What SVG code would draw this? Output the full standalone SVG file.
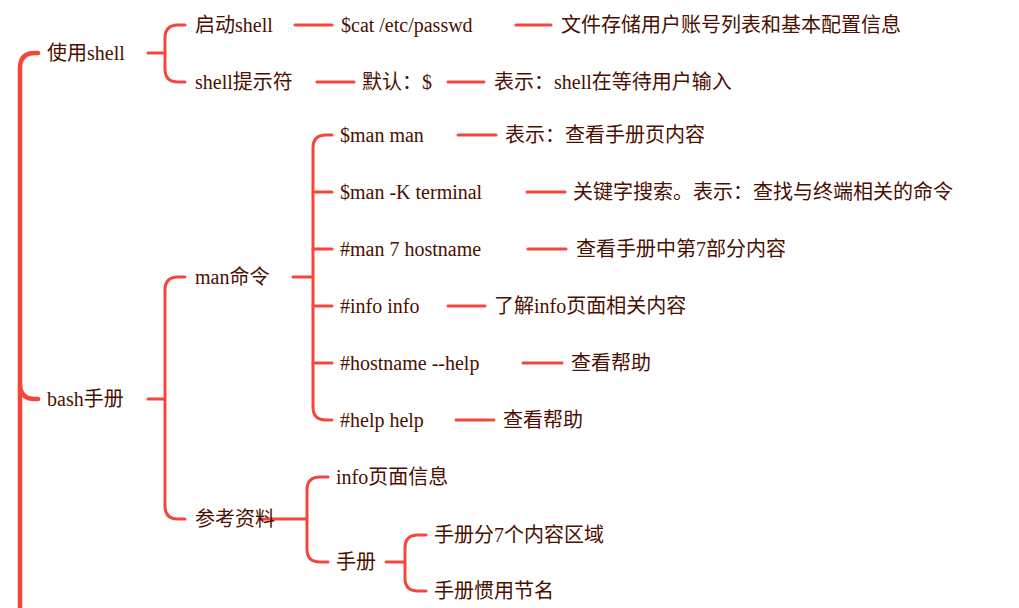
<svg xmlns="http://www.w3.org/2000/svg" width="1019" height="608" viewBox="0 0 1019 608">
<style>
text{font-family:"Liberation Serif","Noto Sans CJK SC",serif;font-size:20px;fill:#4a1000;dominant-baseline:central}
.l{fill:none;stroke:#f5463c;stroke-width:3;stroke-linecap:round}
.r{fill:none;stroke:#f5463c;stroke-width:4.5;stroke-linecap:round}
</style>
<rect width="1019" height="608" fill="#fff"/>
<g id="connectors">
<path class="r" d="M20 610 V68 Q20 53 35 53 H38"/>
<path class="r" d="M20 384 Q20 399 35 399 H38"/>
<path class="l" d="M148 53 H165 M185 25 H178 Q165 25 165 38 V69 Q165 82 178 82 H185"/>
<path class="l" d="M295 25 H332 M516 25 H551 M317 82 H354 M448 82 H484"/>
<path class="l" d="M148 399 H165 M185 277 H178 Q165 277 165 290 V506 Q165 519 178 519 H185"/>
<path class="l" d="M293 277 H313 M332 135 H326 Q313 135 313 148 V407 Q313 420 326 420 H332"/>
<path class="l" d="M313 192 H332 M313 249 H332 M313 306 H332 M313 363 H332"/>
<path class="l" d="M458 135 H496 M527 192 H565 M528 249 H566 M448 306 H485 M523 363 H562 M456 420 H494"/>
<path class="l" d="M260 519 H307 M328 477 H320 Q307 477 307 490 V549 Q307 562 320 562 H328"/>
<path class="l" d="M386 562 H405 M426 535 H418 Q405 535 405 548 V578 Q405 591 418 591 H426"/>
</g>
<g id="n1"><text x="47" y="53">使用shell</text></g>
<g id="n2"><text x="195" y="25">启动shell</text></g>
<g id="n3"><text x="341" y="25">$cat /etc/passwd</text></g>
<g id="n4"><text x="561" y="25">文件存储用户账号列表和基本配置信息</text></g>
<g id="n5"><text x="195" y="82">shell提示符</text></g>
<g id="n6"><text x="362" y="82">默认：$</text></g>
<g id="n7"><text x="494" y="82">表示：shell在等待用户输入</text></g>
<g id="n8"><text x="47" y="399">bash手册</text></g>
<g id="n9"><text x="195" y="277">man命令</text></g>
<g id="n10"><text x="340" y="135">$man man</text></g>
<g id="n11"><text x="505" y="135">表示：查看手册页内容</text></g>
<g id="n12"><text x="340" y="192">$man -K terminal</text></g>
<g id="n13"><text x="573" y="192">关键字搜索。表示：查找与终端相关的命令</text></g>
<g id="n14"><text x="340" y="249">#man 7 hostname</text></g>
<g id="n15"><text x="576" y="249">查看手册中第7部分内容</text></g>
<g id="n16"><text x="340" y="306">#info info</text></g>
<g id="n17"><text x="494" y="306">了解info页面相关内容</text></g>
<g id="n18"><text x="340" y="363">#hostname --help</text></g>
<g id="n19"><text x="571" y="363">查看帮助</text></g>
<g id="n20"><text x="340" y="420">#help help</text></g>
<g id="n21"><text x="503" y="420">查看帮助</text></g>
<g id="n22"><text x="195" y="519">参考资料</text></g>
<g id="n23"><text x="336" y="477">info页面信息</text></g>
<g id="n24"><text x="336" y="562">手册</text></g>
<g id="n25"><text x="434" y="535">手册分7个内容区域</text></g>
<g id="n26"><text x="434" y="591">手册惯用节名</text></g>
</svg>
